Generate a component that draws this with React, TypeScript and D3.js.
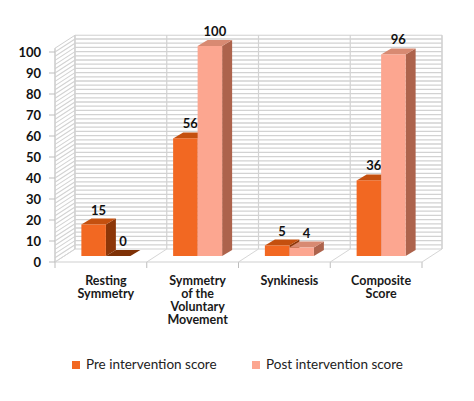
import React from "react";
import * as d3 from "d3";

const categories: string[][] = [
  ["Resting", "Symmetry"],
  ["Symmetry", "of the", "Voluntary", "Movement"],
  ["Synkinesis"],
  ["Composite", "Score"],
];
const preValues = [15, 56, 5, 36];
const postValues = [0, 100, 4, 96];
const seriesNames = ["Pre intervention score", "Post intervention score"];
const yTicks = [0, 10, 20, 30, 40, 50, 60, 70, 80, 90, 100];

const W = 474;
const H = 401;
const FONT = "Lato, 'DejaVu Sans', sans-serif";

const palettes = [
  { front: "#f26822", top: "#c4500f", side: "#8c3608" },
  { front: "#fca690", top: "#d88a72", side: "#ad634c" },
];
const zeroColor = "#7e3106";

export default function App() {
  const x0 = 55, x1 = 422;
  const x = d3.scaleBand<number>().domain(d3.range(categories.length)).range([x0, x1]).padding(0);
  const y = d3.scaleLinear().domain([0, 100]).range([262, 52]);
  const DX = 20, DY = -13; // floor depth
  const OX = 5, OY = -6; // bar front offset
  const BX = 10, BY = -6; // bar depth
  const barW = 24.5;
  const wallTop = y(101.8);
  const gridVals = d3.range(2, 101, 2);
  const bounds = d3.range(categories.length + 1).map((i) => x0 + i * x.bandwidth());

  const series = [preValues, postValues];

  const pts = (arr: [number, number][]) => arr.map((p) => p.join(",")).join(" ");

  return (
    <svg width={W} height={H} style={{ position: "absolute", left: 0, top: 0, background: "#fff" }}>
      <rect x={0} y={0} width={W} height={H} fill="#ffffff" />
      {/* left wall */}
      <polygon points={pts([[x0, y(0)], [x0, wallTop], [x0 + DX, wallTop + DY], [x0 + DX, y(0) + DY]])} fill="#fff" stroke="#cfcfcf" />
      {/* back wall */}
      <polygon points={pts([[x0 + DX, y(0) + DY], [x0 + DX, wallTop + DY], [x1 + DX, wallTop + DY], [x1 + DX, y(0) + DY]])} fill="#fff" stroke="#cfcfcf" />
      {gridVals.map((v) => (
        <g key={v}>
          <line x1={x0 + DX} x2={x1 + DX} y1={y(v) + DY} y2={y(v) + DY} stroke="#d2d2d2" strokeWidth={1.3} />
          <line x1={x0} x2={x0 + DX} y1={y(v)} y2={y(v) + DY} stroke="#d2d2d2" strokeWidth={1.1} />
        </g>
      ))}
      {bounds.map((b, i) => (
        <g key={i}>
          <line x1={b + DX} x2={b + DX} y1={y(0) + DY} y2={wallTop + DY} stroke="#d2d2d2" strokeWidth={1.2} />
          <line x1={b} x2={b + DX} y1={y(0)} y2={y(0) + DY} stroke="#d6d6d6" strokeWidth={1} />
          <line x1={b} x2={b} y1={y(0)} y2={y(0) + 6} stroke="#bdbdbd" strokeWidth={1} />
        </g>
      ))}
      {/* floor front edge */}
      <line x1={x0} x2={x1} y1={y(0)} y2={y(0)} stroke="#cfcfcf" strokeWidth={1.2} />
      {/* y axis */}
      <line x1={x0} x2={x0} y1={wallTop} y2={y(0)} stroke="#cfcfcf" strokeWidth={1.2} />
      {yTicks.map((t) => (
        <g key={t}>
          <line x1={x0 - 6} x2={x0} y1={y(t)} y2={y(t)} stroke="#bdbdbd" />
          <text x={41} y={y(t) + 4.5} textAnchor="end" fontFamily={FONT} fontWeight="bold" fontSize={13} fill="#111">{t}</text>
        </g>
      ))}
      {/* bars */}
      {categories.map((_, ci) => {
        const cx = (x(ci) as number) + x.bandwidth() / 2 + OX;
        return series.map((vals, si) => {
          const v = vals[ci];
          const pal = palettes[si];
          const left = cx - barW + si * barW;
          const right = left + barW;
          const bottom = y(0) + OY;
          const top = y(v) + OY;
          const label = (
            <text x={left + barW / 2 + BX / 2} y={top + BY - 4} textAnchor="middle" fontFamily={FONT} fontWeight="bold" fontSize={13} fill="#111">{v}</text>
          );
          if (v === 0) {
            return (
              <g key={`${ci}-${si}`}>
                <polygon points={pts([[left, bottom], [right, bottom], [right + BX, bottom + BY], [left + BX, bottom + BY]])} fill={zeroColor} />
                {label}
              </g>
            );
          }
          return (
            <g key={`${ci}-${si}`}>
              <polygon points={pts([[right, bottom], [right, top], [right + BX, top + BY], [right + BX, bottom + BY]])} fill={pal.side} />
              <polygon points={pts([[left, top], [right, top], [right + BX, top + BY], [left + BX, top + BY]])} fill={pal.top} />
              <rect x={left} y={top} width={barW} height={bottom - top} fill={pal.front} />
              {label}
            </g>
          );
        });
      })}
      {/* category labels */}
      {categories.map((lines, ci) => {
        const cx = (x(ci) as number) + x.bandwidth() / 2 + OX;
        return (
          <g key={ci}>
            {lines.map((l, li) => (
              <text key={li} x={cx} y={285 + li * 13} textAnchor="middle" fontFamily={FONT} fontWeight="bold" fontSize={12.5} fill="#1a1a1a">{l}</text>
            ))}
          </g>
        );
      })}
      {/* legend */}
      {seriesNames.map((n, i) => {
        const lx = i === 0 ? 72 : 252;
        return (
          <g key={n}>
            <rect x={lx} y={361} width={8} height={8} fill={palettes[i].front} />
            <text x={lx + 14} y={369} fontFamily={FONT} fontSize={13.5} fill="#222">{n}</text>
          </g>
        );
      })}
    </svg>
  );
}
